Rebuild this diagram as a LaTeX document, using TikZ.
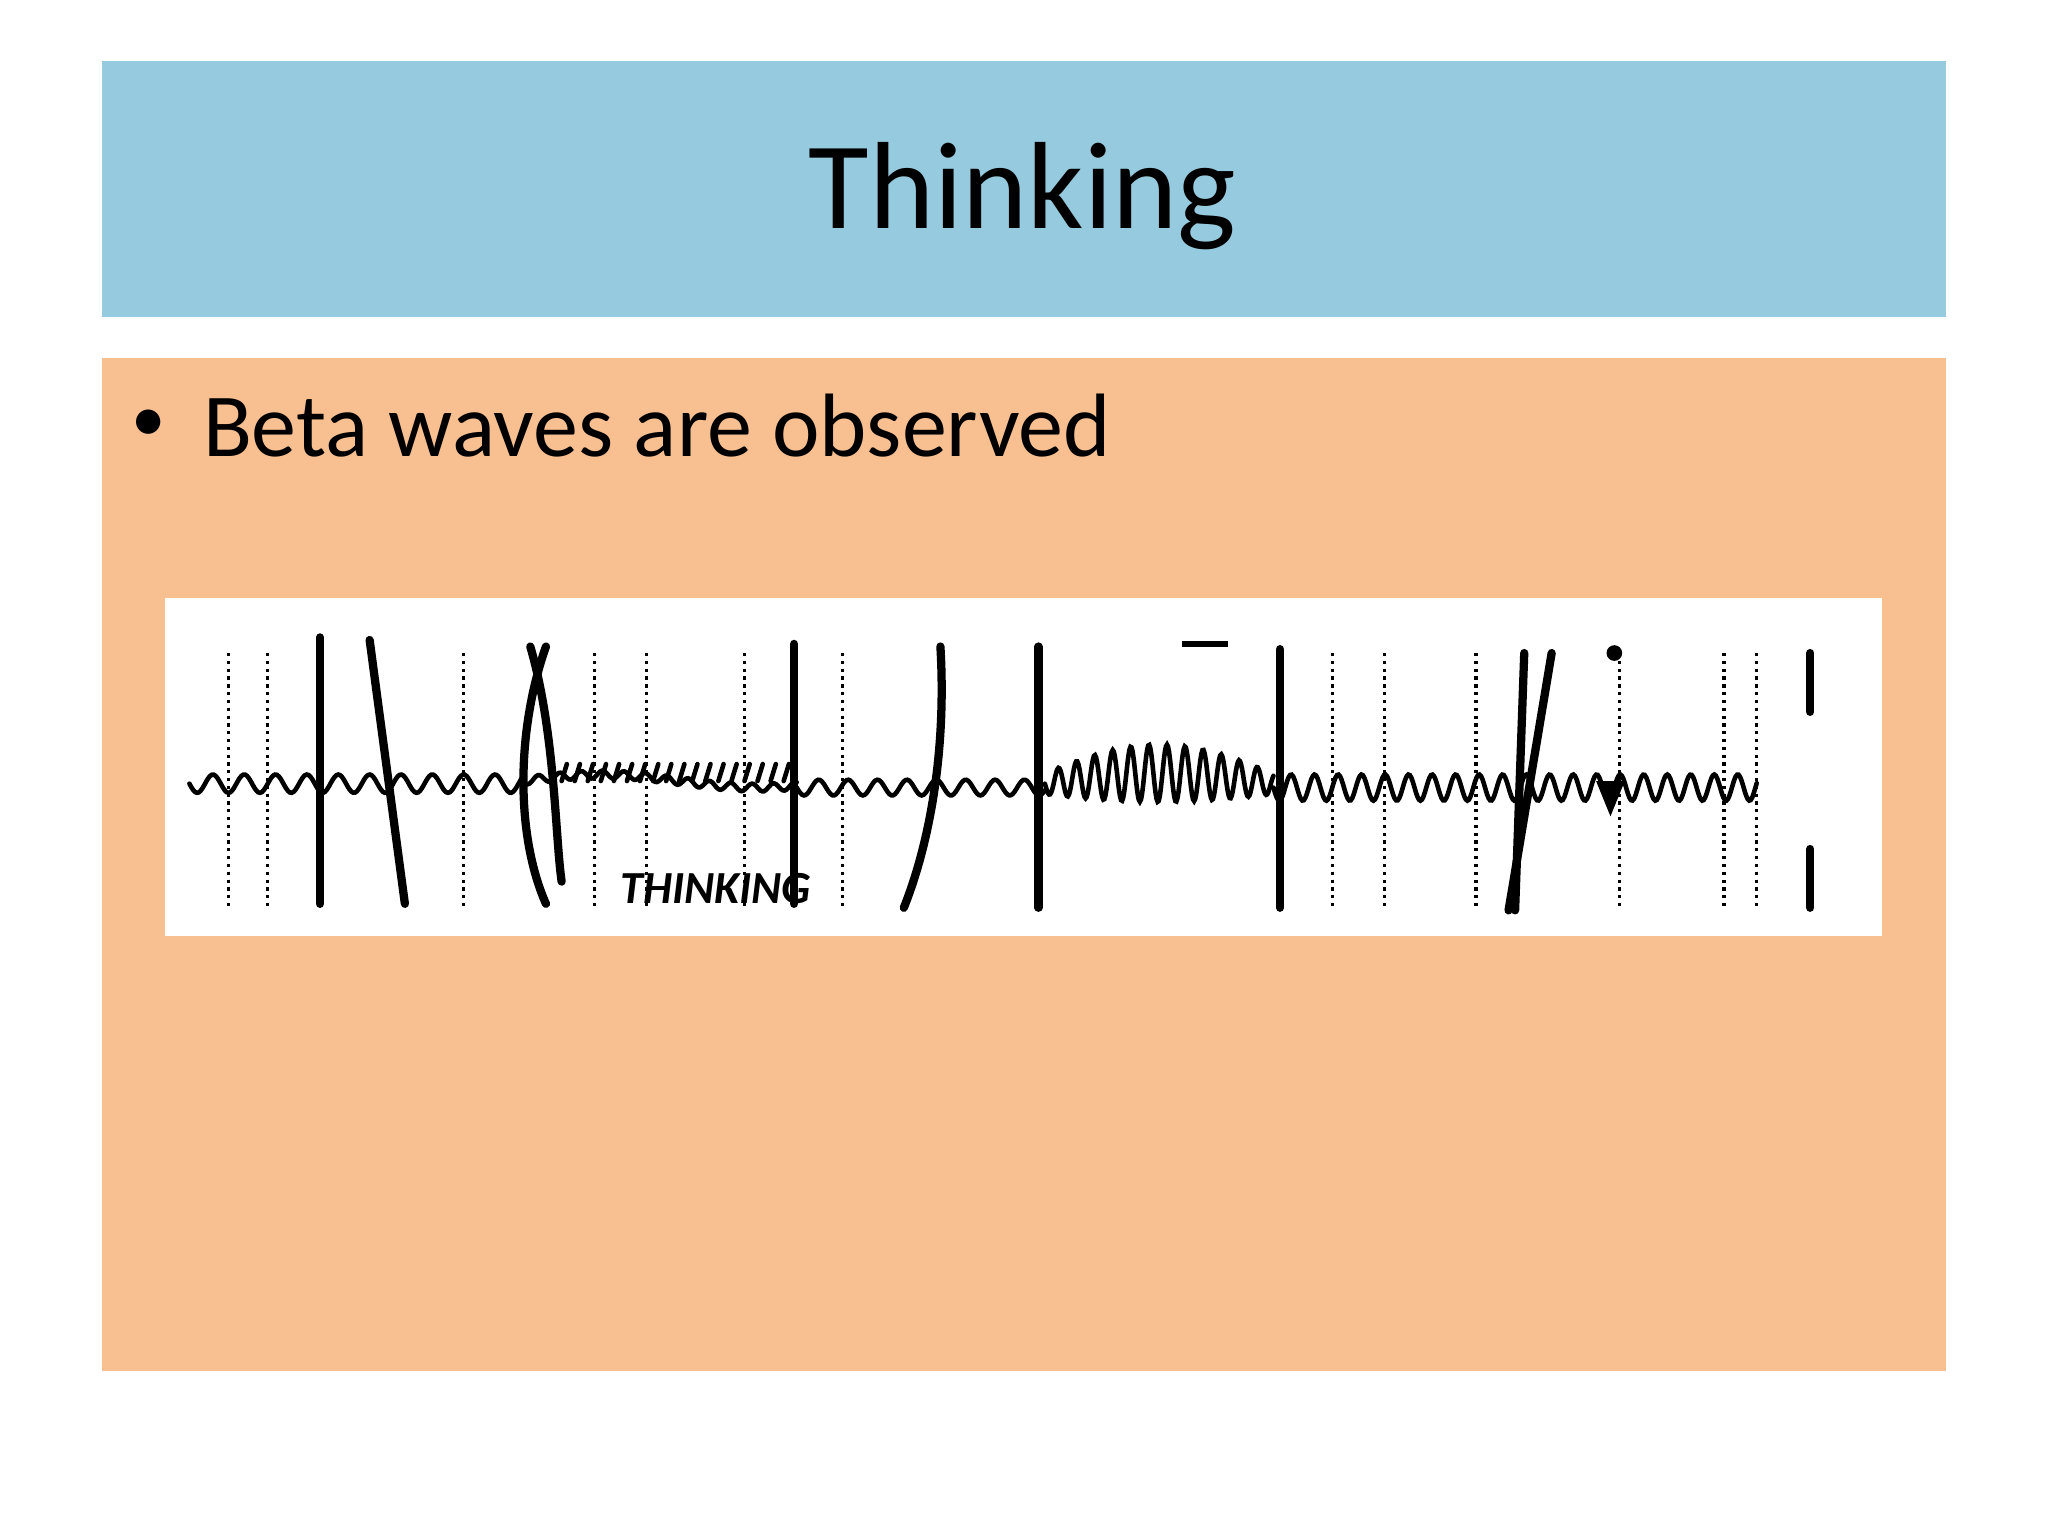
\documentclass[tikz,border=0pt]{standalone}
\usepackage{fontspec}
\setmainfont{Carlito}
\definecolor{titleblue}{HTML}{96CADE}
\definecolor{bodyorange}{HTML}{F8BF91}
\tikzset{
  pen/.style={line width=1pt,line cap=round},
  marker/.style={line width=1.8pt,line cap=round},
  tick/.style={line width=0.7pt,densely dotted}
}
\begin{document}
\begin{tikzpicture}[x=0.01cm,y=-0.01cm]
  \useasboundingbox (0,0) rectangle (1568,1176);
  \fill[white] (0,0) rectangle (1568,1176);
  % title bar
  \fill[titleblue] (78,47) rectangle (1490,243);
  \node (title) at (783,150) {\fontsize{27}{30}\selectfont Thinking};
  % body
  \fill[bodyorange] (78,274) rectangle (1490,1050);
  \node[anchor=west] (dot) at (88,326) {\fontsize{15}{20}\selectfont\textbullet};
  \node[anchor=west] (bullet) at (143,326) {\fontsize{19.6}{22}\selectfont Beta waves are observed};
  % EEG strip
  \fill[white] (126,458) rectangle (1441,717);
  \foreach \x in {175,205,355,455,495,570,645,1020,1060,1130,1240,1320,1345}
    \draw[tick] (\x,500) -- (\x,695);
  \draw[pen,domain=145:400,samples=180] plot (\x,{600+7*sin((\x-145)*15)});
  \draw[pen,domain=400:610,samples=160] plot (\x,{598+3*sin((\x-400)*22)-5*sin((\x-400)*1.5)});
  \foreach \x in {430,440,...,600}
    \draw[pen] (\x,598) -- (\x+4,585);
  \draw[pen,domain=610:800,samples=140] plot (\x,{603+6*sin((\x-610)*16)});
  \draw[pen,domain=800:975,samples=220] plot (\x,{600+(8+14*sin((\x-800)*1.03))*sin((\x-800)*26)-8*sin((\x-800)*1.03)});
  \draw[pen,domain=975:1345,samples=320] plot (\x,{603+10*sin((\x-975)*20)});
  % marker lines
  \draw[marker] (245,488) -- (245,692);
  \draw[marker] (283,490) -- (310,692);
  \draw[marker] (418,495) .. controls (395,560) and (395,640) .. (418,692);
  \draw[marker] (406,495) .. controls (425,560) and (425,640) .. (430,675);
  \draw[marker] (608,493) -- (608,692);
  \draw[marker] (720,495) .. controls (725,580) and (710,650) .. (692,695);
  \draw[marker] (795,495) -- (795,695);
  \draw[marker] (980,497) -- (980,695);
  \draw[marker] (1167,500) -- (1160,697);
  \draw[marker] (1188,500) -- (1155,697);
  \draw[marker] (1386,500) -- (1386,545);
  \draw[marker] (1386,650) -- (1386,695);
  \fill (1222,598) -- (1244,598) -- (1233,625) -- cycle;
  \fill (1236,500) circle (6);
  \draw[line width=1.2pt] (905,493) -- (940,493);
  \node (label) at (548,680) {\bfseries\itshape\fontsize{10}{12}\selectfont THINKING};
\end{tikzpicture}
\end{document}
